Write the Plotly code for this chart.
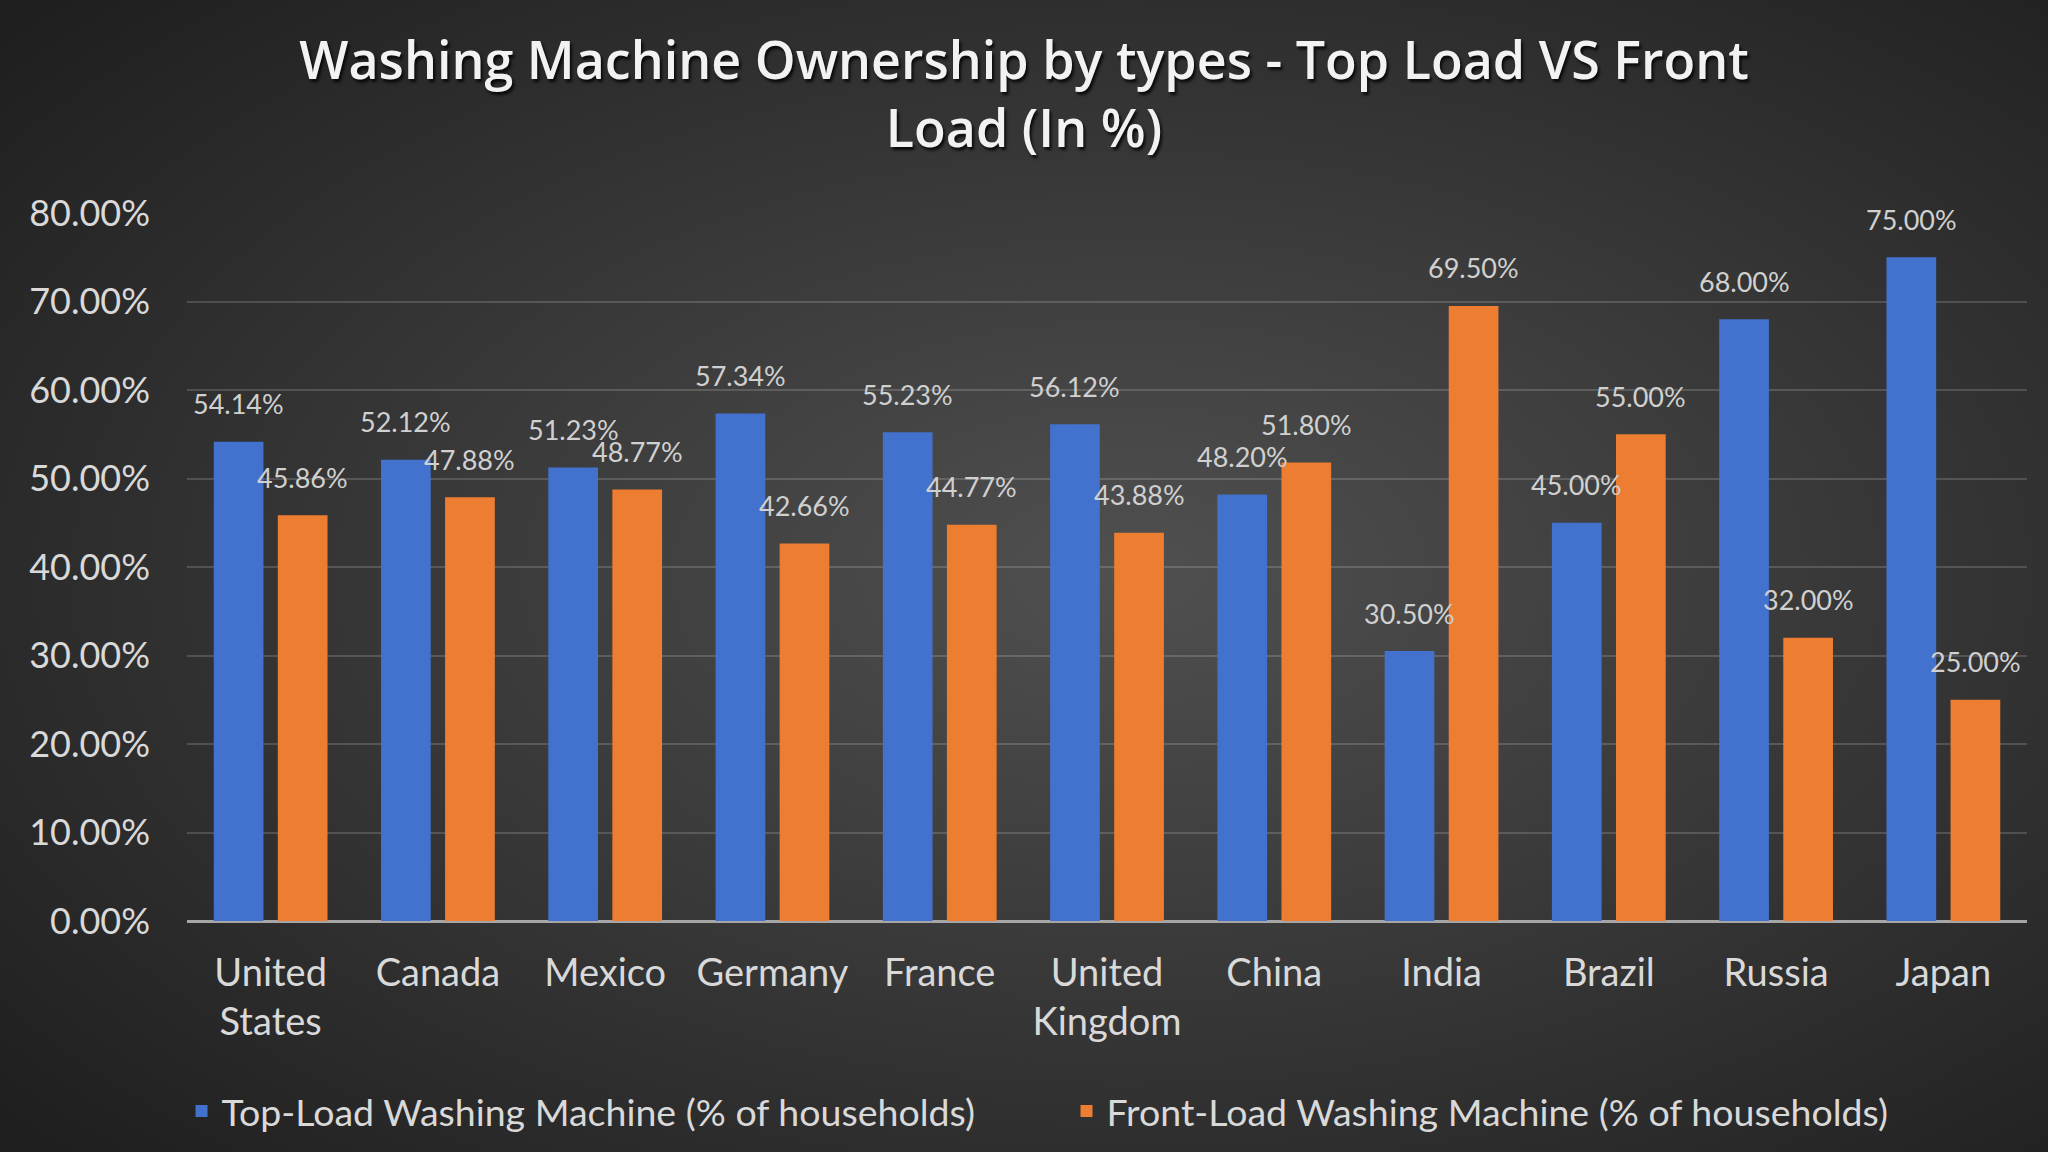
import base64
import plotly.graph_objects as go

countries = ["United<br>States", "Canada", "Mexico", "Germany", "France",
             "United<br>Kingdom", "China", "India", "Brazil", "Russia", "Japan"]
top_load = [54.14, 52.12, 51.23, 57.34, 55.23, 56.12, 48.20, 30.50, 45.00, 68.00, 75.00]
front_load = [45.86, 47.88, 48.77, 42.66, 44.77, 43.88, 51.80, 69.50, 55.00, 32.00, 25.00]

W, H = 2048, 1152
L, R, T, B = 187, 21, 213, 231
pw, ph = W - L - R, H - T - B
bargap = 0.234

# radial grey background like the Excel style
svg = (
    "<svg xmlns='http://www.w3.org/2000/svg' width='2048' height='1152' preserveAspectRatio='none'>"
    "<defs><radialGradient id='g' cx='55%' cy='50%' r='72%'>"
    "<stop offset='0' stop-color='#505050'/><stop offset='1' stop-color='#1f1f1f'/>"
    "</radialGradient></defs><rect width='100%' height='100%' fill='url(#g)'/></svg>"
)
bg = "data:image/svg+xml;base64," + base64.b64encode(svg.encode()).decode()

font = "Lato"
label_col = "#d0d0d0"

fig = go.Figure()
fig.add_trace(go.Bar(
    x=countries, y=[v / 100 for v in top_load],
    name="Top-Load Washing Machine (% of households)",
    marker=dict(color="#4272cd", line=dict(width=0)),
))
fig.add_trace(go.Bar(
    x=countries, y=[v / 100 for v in front_load],
    name="Front-Load Washing Machine (% of households)",
    marker=dict(color="#ec7d31", line=dict(width=0)),
))

# data labels, floated a bit above each bar as in the original
shift = (1 - bargap) / 4
annos = []
for i in range(len(countries)):
    for vals, dx in ((top_load, -shift), (front_load, shift)):
        annos.append(dict(
            x=i + dx, y=vals[i] / 100, xref="x", yref="y",
            text=f"{vals[i]:.2f}%", showarrow=False,
            yanchor="middle", yshift=38,
            font=dict(family=font, size=27, color=label_col),
        ))

fig.update_layout(
    width=W, height=H,
    margin=dict(l=L, r=R, t=T, b=B),
    paper_bgcolor="#2b2b2b", plot_bgcolor="rgba(0,0,0,0)",
    barmode="group", bargap=bargap, bargroupgap=0.224,
    font=dict(family=font, color="#d9d9d9", size=38),
    title=dict(
        text="Washing Machine Ownership by types - Top Load VS Front<br>Load (In %)",
        x=0.5, xanchor="center", y=1 - 79 / H, yanchor="middle",
        font=dict(family="Open Sans", size=52, weight=600, color="#f2f2f2",
                  shadow="2px 3px 3px rgba(0,0,0,0.8)"),
    ),
    images=[dict(
        source=bg, xref="paper", yref="paper",
        x=-L / pw, y=1 + T / ph, sizex=W / pw, sizey=H / ph,
        xanchor="left", yanchor="top", sizing="stretch", layer="below",
    )],
    annotations=annos,
    legend=dict(
        orientation="h", x=0.478, xanchor="center",
        yref="container", y=1 - 1111 / H, yanchor="middle",
        font=dict(family=font, size=37.5, color="#d9d9d9"),
        bgcolor="rgba(0,0,0,0)", entrywidth=840, entrywidthmode="pixels",
    ),
    showlegend=True,
)

fig.update_xaxes(
    showgrid=False, ticks="", ticklabelstandoff=26,
    tickfont=dict(family=font, size=38, color="#d9d9d9"),
)
fig.update_yaxes(
    range=[0, 0.8], dtick=0.1, tickformat=".2%",
    showgrid=True, gridcolor="rgba(255,255,255,0.16)", gridwidth=2,
    zeroline=True, zerolinecolor="#a6a6a6", zerolinewidth=3,
    ticks="", ticklabelstandoff=36,
    tickfont=dict(family=font, size=36, color="#d9d9d9"),
)

fig.write_html("out.html", config={"displayModeBar": False},
               post_script="document.body.style.margin='0';")
